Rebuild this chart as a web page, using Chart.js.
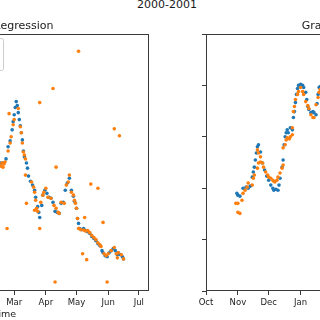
<!DOCTYPE html>
<html>
<head>
<meta charset="utf-8">
<script src="https://cdn.jsdelivr.net/npm/chart.js@4.4.1/dist/chart.umd.min.js"></script>
<style>
  html, body { margin: 0; padding: 0; background: #fff; }
  #wrap { position: relative; width: 320px; height: 320px; overflow: hidden; background: #fff; }
  #suptitle { position: absolute; left: 0; top: -1px; width: 334px; text-align: center;
              font: 11px "DejaVu Sans"; line-height: 11px; color: #1a1a1a; }
  canvas { position: absolute; top: 0; }
  #lrChart { left: -178px; }
  #gbChart { left: 170px; }
</style>
</head>
<body>
<div id="wrap">
  <div id="suptitle">2000-2001</div>
  <canvas id="lrChart" width="339" height="320"></canvas>
  <canvas id="gbChart" width="339" height="320"></canvas>
</div>
<script>
// x values are days counted from 1 Oct 2000
const monthStarts = [0, 31, 61, 92, 123, 151, 182, 212, 243, 273];
const monthLabels = ['Oct', 'Nov', 'Dec', 'Jan', 'Feb', 'Mar', 'Apr', 'May', 'Jun', 'Jul'];
const yTicks = [0, 20, 40, 60, 80, 100];

// Linear regression panel
const lrActualDays = [132, 135, 138, 140, 143, 145, 147, 149, 150, 151, 152, 153, 154, 155, 156, 157, 158, 159, 160, 161,
  163, 164, 165, 167, 169, 171, 172, 174, 175, 176, 178, 179, 181, 183, 185, 187, 189, 191, 193, 195,
  197, 199, 201, 203, 205, 207, 209, 210, 212, 213, 214, 215, 217, 219, 221, 223, 225, 227, 229, 231,
  233, 235, 237, 238, 240, 242, 244, 246, 248, 250, 252, 253, 255, 257, 258];
const lrActualValues = [47.8, 48.6, 49.8, 49.8, 51.4, 56.1, 58.4, 62.7, 65.9, 68.6, 71.4, 73.7, 72.2, 69.4, 66.7, 64.3, 61.6, 58.8, 54.5, 52.2,
  49.8, 47.8, 44.7, 42.7, 41.2, 39.2, 36.5, 32.9, 30.6, 28.6, 33.3, 37.3, 39.2, 38.0, 36.5, 36.1, 34.5, 31.0, 30.6, 30.2,
  34.1, 34.5, 39.2, 42.0, 43.9, 39.2, 36.9, 34.9, 32.2, 28.2, 26.3, 24.3, 23.9, 24.3, 23.5, 23.1, 22.4, 21.2, 20.4, 19.6,
  18.4, 17.6, 15.7, 14.9, 13.7, 13.3, 14.9, 15.7, 16.5, 15.7, 14.1, 14.9, 14.1, 13.3, 12.5];
const lrPredDays = [134, 136, 138, 139, 140, 141, 142, 144, 145, 146, 147, 148, 150, 151, 155, 157, 158, 159, 160, 161,
  162, 162, 163, 168, 170, 171, 171, 172, 173, 174, 176, 176, 177, 179, 180, 182, 184, 187, 189, 190,
  191, 192, 192, 194, 195, 197, 200, 202, 204, 205, 207, 209, 210, 211, 212, 213, 214, 214, 216, 218,
  219, 220, 221, 222, 223, 225, 226, 227, 229, 231, 233, 233, 235, 236, 238, 239, 241, 242, 243, 246,
  249, 249, 251, 252, 253, 254, 256, 258];
const lrPredValues = [48.2, 49.0, 48.6, 49.8, 48.2, 49.4, 50.2, 24.3, 54.5, 69.0, 57.6, 60.0, 64.7, 66.7, 71.0, 63.9, 61.6, 57.6, 54.1, 52.9,
  51.4, 45.1, 34.1, 42.4, 40.4, 38.4, 31.4, 35.3, 32.2, 31.0, 73.3, 24.3, 34.5, 37.3, 38.4, 40.0, 36.5, 36.1, 78.8, 33.3,
  3.5, 32.2, 48.2, 30.6, 30.2, 34.5, 34.1, 41.2, 42.4, 45.1, 38.4, 37.3, 35.3, 34.1, 32.2, 28.2, 93.3, 24.3, 23.9, 14.5,
  23.7, 28.6, 23.3, 12.2, 23.5, 22.7, 41.6, 21.6, 20.8, 20.0, 40.0, 18.8, 18.0, 17.3, 26.7, 14.5, 13.7, 3.5, 14.5, 15.7,
  16.9, 63.1, 14.5, 12.9, 14.9, 60.4, 14.1, 12.5];

// Gradient boosting panel
const gbActualDays = [30, 31, 33, 36, 39, 41, 43, 45, 46, 47, 48, 49, 50, 51, 53, 55, 57, 59, 61, 63,
  65, 66, 68, 70, 71, 72, 74, 75, 76, 77, 78, 79, 80, 82, 84, 85, 86, 87, 88, 89,
  90, 92, 94, 95, 97, 98, 99, 100, 102, 104, 105, 107, 108, 109, 110, 111, 113];
const gbActualValues = [38.0, 37.3, 36.9, 40.0, 40.4, 40.0, 40.8, 44.3, 46.3, 48.2, 51.0, 53.7, 56.1, 56.9, 54.1, 49.8, 47.1, 44.7, 43.1, 41.2,
  40.0, 39.2, 39.6, 39.2, 41.2, 43.9, 48.2, 51.0, 56.9, 60.0, 61.6, 62.7, 61.6, 63.5, 62.7, 67.5, 69.8, 73.3, 76.5, 78.8,
  80.0, 80.4, 80.0, 79.2, 77.3, 74.5, 71.8, 70.6, 69.4, 69.8, 69.4, 68.6, 72.9, 76.5, 79.2, 79.6, 80.0];
const gbPredDays = [29, 31, 31, 33, 35, 36, 38, 40, 41, 45, 46, 47, 50, 50, 51, 51, 53, 53, 55, 56,
  58, 60, 61, 63, 65, 66, 67, 69, 70, 72, 74, 75, 75, 77, 78, 79, 81, 82, 84, 84,
  85, 86, 87, 89, 90, 92, 94, 95, 97, 99, 100, 102, 104, 105, 107, 109, 110, 111];
const gbPredValues = [34.1, 30.6, 34.1, 30.2, 35.3, 38.0, 39.2, 40.4, 42.0, 41.2, 43.9, 45.1, 47.8, 54.9, 53.7, 49.8, 52.2, 50.2, 49.8, 48.2,
  46.3, 45.1, 44.3, 43.9, 43.1, 42.7, 42.4, 43.1, 44.3, 45.9, 47.8, 49.0, 55.7, 56.9, 58.8, 59.6, 59.2, 60.0, 60.8, 63.5,
  69.8, 71.8, 74.5, 76.5, 77.6, 79.2, 77.6, 76.5, 73.7, 72.2, 71.0, 68.6, 67.5, 67.5, 72.5, 75.3, 77.3, 78.4];

const BLUE = '#1f77b4';
const ORANGE = '#ff7f0e';
const INK = '#1a1a1a';
const FONT = '"DejaVu Sans", sans-serif';

function toPoints(days, values) {
  return days.map((d, i) => ({ x: d, y: values[i] }));
}

// axes box, subplot title and legend frame, matplotlib style
const frame = {
  id: 'frame',
  afterDatasetsDraw(chart, args, opts) {
    const { ctx, chartArea } = chart;
    const x0 = Math.round(chartArea.left) + 0.5;
    const y0 = Math.round(chartArea.top) + 0.5;
    const x1 = Math.round(chartArea.right) - 0.5;
    const y1 = Math.round(chartArea.bottom) - 0.5;
    ctx.save();
    if (opts.legend) {
      const lx = x0 + 5, ly = y0 + 4, lw = 138, lh = 32;
      ctx.fillStyle = 'rgba(255,255,255,0.8)';
      ctx.strokeStyle = '#cccccc';
      ctx.lineWidth = 1;
      ctx.beginPath();
      ctx.roundRect(lx, ly, lw, lh, 2);
      ctx.fill();
      ctx.stroke();
      ctx.font = '9.5px ' + FONT;
      ctx.textBaseline = 'middle';
      chart.data.datasets.forEach((ds, i) => {
        const cy = ly + 9 + i * 14;
        ctx.fillStyle = ds.backgroundColor;
        ctx.beginPath();
        ctx.arc(lx + 12, cy, 2, 0, Math.PI * 2);
        ctx.fill();
        ctx.fillStyle = INK;
        ctx.fillText(ds.label, lx + 24, cy);
      });
    }
    ctx.strokeStyle = '#3a3a3a';
    ctx.lineWidth = 1;
    ctx.strokeRect(x0, y0, x1 - x0, y1 - y0);
    ctx.fillStyle = INK;
    ctx.font = '11px ' + FONT;
    ctx.textAlign = 'center';
    ctx.textBaseline = 'alphabetic';
    ctx.fillText(opts.title, (chartArea.left + chartArea.right) / 2, chartArea.top - 5);
    ctx.restore();
  }
};

function makeChart(id, title, actualDays, actualValues, predDays, predValues, yWidth, showLegend) {
  const ctx = document.getElementById(id).getContext('2d');
  return new Chart(ctx, {
    type: 'scatter',
    data: {
      datasets: [{
        label: 'Actual',
        data: toPoints(actualDays, actualValues),
        backgroundColor: BLUE,
        borderWidth: 0,
        pointRadius: 1.8,
        order: 2
      }, {
        label: 'Predicted',
        data: toPoints(predDays, predValues),
        backgroundColor: ORANGE,
        borderWidth: 0,
        pointRadius: 1.8,
        order: 1
      }]
    },
    options: {
      responsive: false,
      animation: false,
      layout: { padding: { top: 34, right: 12, bottom: 0, left: 0 } },
      scales: {
        x: {
          type: 'linear',
          min: 0,
          max: 283,
          afterBuildTicks: s => { s.ticks = monthStarts.map(v => ({ value: v })); },
          afterFit: s => { s.height = 29; },
          border: { display: false },
          grid: { drawOnChartArea: false, drawTicks: true, tickLength: 4, tickColor: '#3a3a3a' },
          ticks: {
            autoSkip: false,
            maxRotation: 0,
            padding: 3,
            color: INK,
            font: { family: FONT, size: 8.5 },
            callback: v => monthLabels[monthStarts.indexOf(v)]
          },
          title: { display: true, text: 'Time', color: INK, font: { family: FONT, size: 9.5 }, padding: { top: 0, bottom: 0 } }
        },
        y: {
          min: 0,
          max: 100,
          afterBuildTicks: s => { s.ticks = yTicks.map(v => ({ value: v })); },
          afterFit: s => { s.width = yWidth; },
          border: { display: false },
          grid: { drawOnChartArea: false, drawTicks: true, tickLength: 4, tickColor: '#3a3a3a' },
          ticks: { display: false }
        }
      },
      plugins: {
        legend: { display: false },
        tooltip: { enabled: false },
        frame: { title: title, legend: showLegend }
      }
    },
    plugins: [frame]
  });
}

makeChart('lrChart', 'Linear Regression', lrActualDays, lrActualValues, lrPredDays, lrPredValues, 38, true);
makeChart('gbChart', 'Gradient Boosting', gbActualDays, gbActualValues, gbPredDays, gbPredValues, 36, false);
</script>
</body>
</html>
